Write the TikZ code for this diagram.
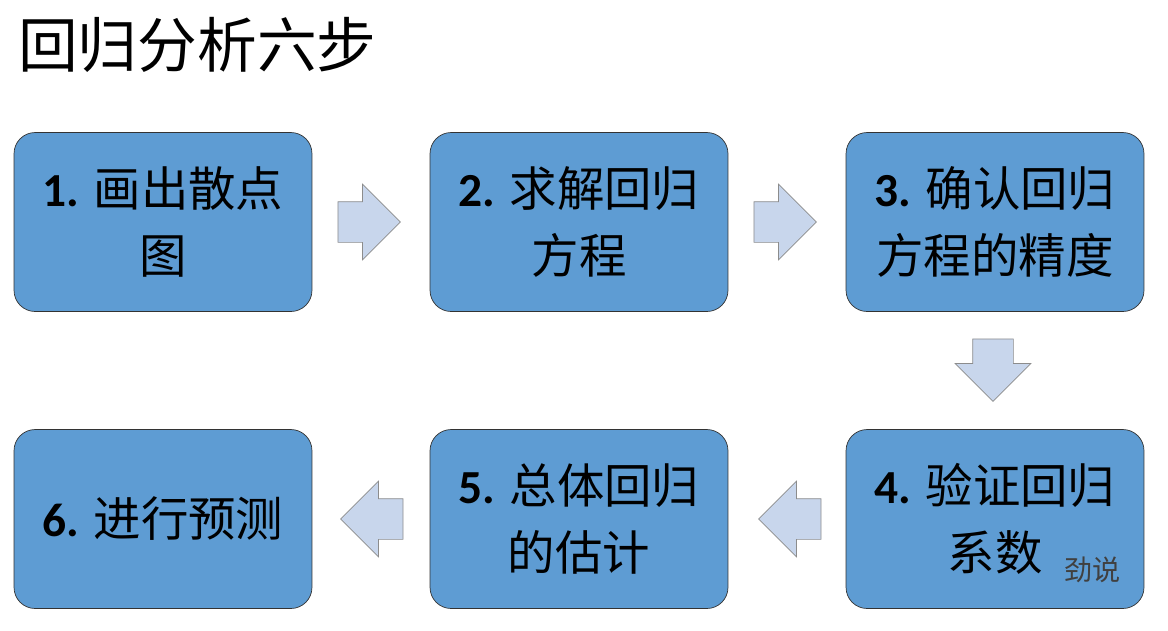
\documentclass[tikz,border=0pt]{standalone}
\usepackage{fontspec}
\setmainfont{Carlito}
\newfontfamily\cjk{Noto Sans CJK SC}
\usetikzlibrary{positioning}
\usetikzlibrary{shapes.arrows}
\definecolor{boxblue}{RGB}{94,156,211}
\definecolor{arrfill}{RGB}{200,214,236}
\tikzset{
  stepbox/.style={draw=black!80, thin, fill=boxblue, rounded corners=12pt,
    minimum width=5.96cm, minimum height=3.58cm, align=center,
    font=\fontsize{27}{38}\selectfont},
  flow/.style={single arrow, draw=black!45, fill=arrfill, thin,
    minimum height=1.25cm, minimum width=1.5cm, single arrow head extend=0.35cm,
    inner xsep=0pt, inner ysep=0.4cm}
}
\begin{document}
\begin{tikzpicture}[x=0.02cm,y=-0.02cm]
\useasboundingbox (0,0) rectangle (1168,630);
\node[anchor=west, font=\cjk\fontsize{34}{36}\selectfont] (title) at (12,45) {回归分析六步};

\node[stepbox] (s1) at (163,222) {\textbf{1.} {\cjk 画出散点}\\{\cjk 图}};
\node[stepbox] (s2) at (579,222) {\textbf{2.} {\cjk 求解回归}\\{\cjk 方程}};
\node[stepbox] (s3) at (995,222) {\textbf{3.} {\cjk 确认回归}\\{\cjk 方程的精度}};
\node[stepbox] (s4) at (995,519) {\textbf{4.} {\cjk 验证回归}\\{\cjk 系数}};
\node[stepbox] (s5) at (579,519) {\textbf{5.} {\cjk 总体回归}\\{\cjk 的估计}};
\node[stepbox] (s6) at (163,519) {\textbf{6.} {\cjk 进行预测}};

\node[flow] (a12) at (359,222) {};
\node[flow] (a23) at (775,222) {};
\node[flow, rotate=-90] (a34) at (993,360) {};
\node[flow, rotate=180] (a45) at (800,519) {};
\node[flow, rotate=180] (a56) at (382,519) {};

\node[anchor=west, text=black!75, font=\cjk\fontsize{16}{18}\selectfont] (mark) at (1058,570) {劲说};
\end{tikzpicture}
\end{document}
